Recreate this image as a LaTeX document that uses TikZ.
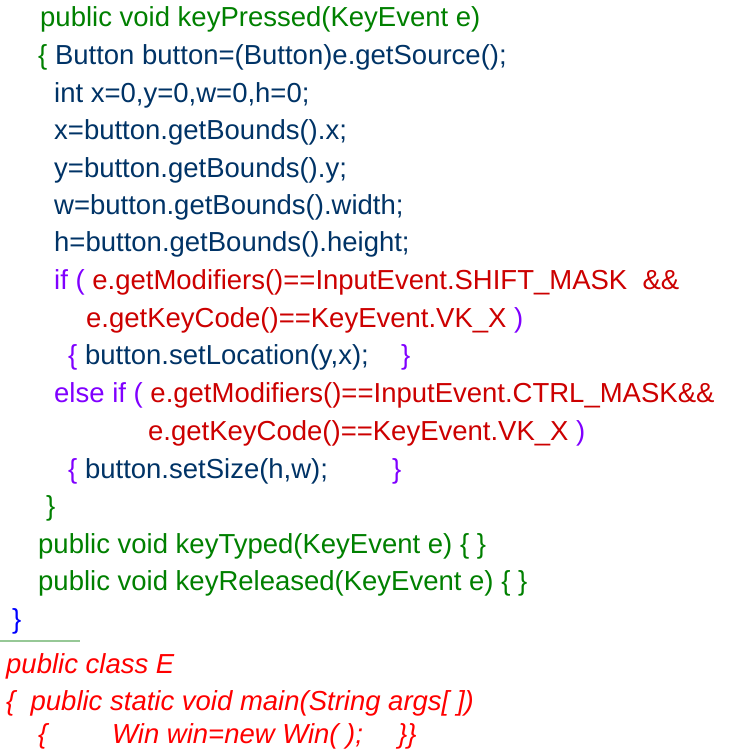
\documentclass[tikz,border=0pt]{standalone}
\usepackage{fontspec}
\setmainfont{Liberation Sans}
\usetikzlibrary{positioning}
\definecolor{kgreen}{RGB}{0,128,0}
\definecolor{knavy}{RGB}{0,51,102}
\definecolor{kpurple}{RGB}{128,0,255}
\definecolor{kred}{RGB}{204,0,0}
\definecolor{kblue}{RGB}{0,0,255}
\definecolor{kbright}{RGB}{255,0,0}
\definecolor{krule}{RGB}{150,200,150}
\newcommand{\kg}[1]{\textcolor{kgreen}{#1}}
\newcommand{\kn}[1]{\textcolor{knavy}{#1}}
\newcommand{\kp}[1]{\textcolor{kpurple}{#1}}
\newcommand{\kr}[1]{\textcolor{kred}{#1}}
\begin{document}
\begin{tikzpicture}[x=1pt,y=1pt,
	code/.style={anchor=base west, inner sep=0pt, font=\fontsize{27.5}{30}\selectfont},
	main/.style={code, text=kbright, font=\fontsize{27.5}{30}\selectfont\itshape}]
	\useasboundingbox (0,0) rectangle (741,755);

	\node[code] (l1) at (40,728) {\kg{public void keyPressed(KeyEvent e)}};
	\node[code] (l2) at (38,690) {\kg{\{} \kn{Button button=(Button)e.getSource();}};
	\node[code] (l3) at (54,652) {\kn{int x=0,y=0,w=0,h=0;}};
	\node[code] (l4) at (54,615) {\kn{x=button.getBounds().x;}};
	\node[code] (l5) at (54,577) {\kn{y=button.getBounds().y;}};
	\node[code] (l6) at (54,540) {\kn{w=button.getBounds().width;}};
	\node[code] (l7) at (54,503) {\kn{h=button.getBounds().height;}};
	\node[code] (l8) at (54,465) {\kp{if (} \kr{e.getModifiers()==InputEvent.SHIFT\_MASK\ \ \&\&}};
	\node[code] (l9) at (86,427) {\kr{e.getKeyCode()==KeyEvent.VK\_X} \kp{)}};
	\node[code] (l10) at (68,390) {\kp{\{} \kn{button.setLocation(y,x);}};
	\node[code] (l10b) at (401,390) {\kp{\}}};
	\node[code] (l11) at (54,352) {\kp{else if (} \kr{e.getModifiers()==InputEvent.CTRL\_MASK\&\&}};
	\node[code] (l12) at (148,314) {\kr{e.getKeyCode()==KeyEvent.VK\_X} \kp{)}};
	\node[code] (l13) at (68,276) {\kp{\{} \kn{button.setSize(h,w);}};
	\node[code] (l13b) at (392,276) {\kp{\}}};
	\node[code] (l14) at (46,239) {\kg{\}}};
	\node[code] (l15) at (38,201) {\kg{public void keyTyped(KeyEvent e) \{ \}}};
	\node[code] (l16) at (38,164) {\kg{public void keyReleased(KeyEvent e) \{ \}}};
	\node[code] (l17) at (12,126) {\textcolor{kblue}{\}}};

	\coordinate (r1) at (0,114);
	\coordinate (r2) at (80,114);
	\draw[krule, line width=1.2pt] (r1) -- (r2);

	\node[main] (m1) at (6,81) {public class E};
	\node[main] (m2) at (6,44) {\{\ \ public static void main(String args[ ])};
	\node[main] (m3) at (38,11) {\{};
	\node[main] (m4) at (112,11) {Win win=new Win( );};
	\node[main] (m5) at (398,11) {\}\}};
\end{tikzpicture}
\end{document}
